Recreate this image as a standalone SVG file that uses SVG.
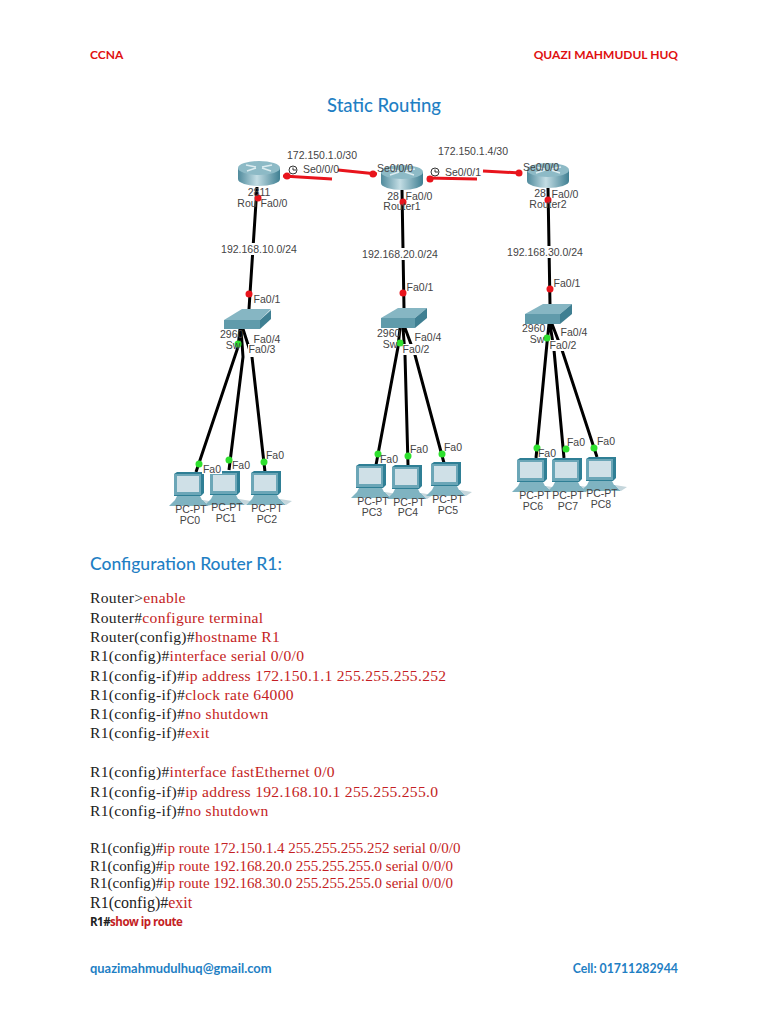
<svg xmlns="http://www.w3.org/2000/svg" width="768" height="1024" viewBox="0 0 768 1024">
<style>
text{font-family:"Liberation Sans",Arial,sans-serif}
.h{font-family:Lato,"Open Sans",sans-serif;font-weight:700;font-size:12px;fill:#e01010}
.f{font-family:Lato,"Open Sans",sans-serif;font-weight:700;fill:#1f7fc4}
.t{font-family:Lato,"Open Sans",sans-serif;fill:#1f7fc4;font-weight:500}
.c{font-family:"Liberation Serif","Times New Roman",serif;font-size:15.600px;letter-spacing:.3px;fill:#222}
.s{font-size:15px;letter-spacing:0}
.x{font-size:16px;letter-spacing:0}
.c tspan{fill:#c41e24}
.q{font-family:"Open Sans",Lato,sans-serif;font-weight:700;font-size:11.500px;letter-spacing:-.5px;fill:#222}
.l{font-size:10.500px;fill:#444;text-anchor:middle}
.a{font-size:10.500px;fill:#444}
.b{fill:#fff}
.k{stroke:#000;stroke-width:3;fill:none}
.r{stroke:#e8141c;stroke-width:3;fill:none}
.dr{fill:#e8141c}.dg{fill:#2ee02e}
</style>
<defs>
<linearGradient id="rg" x1="0" x2="1" y1="0" y2="0"><stop offset="0" stop-color="#4f8a9c"/><stop offset=".45" stop-color="#c3dde4"/><stop offset="1" stop-color="#3f7f92"/></linearGradient>
<g id="router">
<path d="M-21-5V6A21 7 0 0 0 21 6V-5Z" fill="url(#rg)"/>
<ellipse cx="0" cy="-5" rx="21" ry="7" fill="#8dbac6"/>
<path d="M-13-8L-3-6M-12-2L-3-5M13-8L3-6M12-2L3-5" stroke="#dcecf0" stroke-width="1.500" fill="none"/>
</g>
<g id="pc">
<path d="M0 1L3-1H30V20L27 23H0Z" fill="#2f7f95"/>
<path d="M0 1H27V22H0Z" fill="#6ba6b7"/>
<rect x="3" y="3" width="22" height="16" fill="#cfe0e7"/>
<path d="M3 23H26L28 27H1Z" fill="#7fb3c1"/>
<path d="M-5 33L1 27H29L35 33Z" fill="#7fb3c1"/>
<path d="M29 27L41 29L35 33Z" fill="#c5d6dc"/>
</g>
</defs>

<g id="header">
<text class="h" x="90" y="59">CCNA</text>
<text class="h" x="678" y="59" text-anchor="end">QUAZI MAHMUDUL HUQ</text>
<text class="t" x="384" y="112" text-anchor="middle" font-size="18.500">Static Routing</text>
</g>

<g id="connectors">
<path class="r" d="M283 176L332 179M338 170L377 174M427 178L477 179M483 171L520 173"/>
<path class="k" d="M257 187L249 309M402 190L404 308M548 188L550 305"/>
<path class="k" d="M240 329L238 347L196 472M241 329L243 357L229 470M243 329L252 357L265 472M400 328L398 347L376 465M403 328L405 355L408 465M405 328L415 355L444 463M549 324L547 343L536 458M550 324L554 350L564 458M552 324L562 350L597 457"/>
</g>

<g id="Router0"><use href="#router" x="259" y="173"/></g>
<g id="Router1"><use href="#router" x="402" y="177"/></g>
<g id="Router2"><use href="#router" x="548" y="175"/></g>

<g id="Switch0"><path d="M224 320L242 309H271L260 320Z" fill="#86b6c3"/><path d="M224 320H260V329H224Z" fill="#609bab"/><path d="M260 320L271 310V319L260 329Z" fill="#3f7f92"/></g>
<g id="Switch1"><path d="M381 318L398 308H427L415 318Z" fill="#86b6c3"/><path d="M381 318H415V328H381Z" fill="#609bab"/><path d="M415 318L427 308V318L415 328Z" fill="#3f7f92"/></g>
<g id="Switch2"><path d="M525 314L543 304H572L560 314Z" fill="#86b6c3"/><path d="M525 314H560V324H525Z" fill="#609bab"/><path d="M560 314L572 304V314L560 324Z" fill="#3f7f92"/></g>

<g id="PC0"><use href="#pc" x="174" y="473"/></g>
<g id="PC1"><use href="#pc" x="210" y="472"/></g>
<g id="PC2"><use href="#pc" x="251" y="472"/></g>
<g id="PC3"><use href="#pc" x="356" y="465"/></g>
<g id="PC4"><use href="#pc" x="392" y="466"/></g>
<g id="PC5"><use href="#pc" x="431" y="463"/></g>
<g id="PC6"><use href="#pc" x="517" y="459"/></g>
<g id="PC7"><use href="#pc" x="552" y="459"/></g>
<g id="PC8"><use href="#pc" x="586" y="458"/></g>

<g id="label-backgrounds" class="b">
<rect x="220" y="243" width="79" height="12"/><rect x="361" y="248" width="79" height="12"/><rect x="505" y="246" width="79" height="12"/>
<rect x="253" y="294" width="28" height="11"/><rect x="406" y="282" width="28" height="11"/><rect x="553" y="278" width="28" height="11"/>
<rect x="252" y="334" width="30" height="10"/><rect x="248" y="344" width="30" height="13"/>
<rect x="413" y="332" width="30" height="10"/><rect x="403" y="344" width="28" height="11"/>
<rect x="559" y="327" width="30" height="10"/><rect x="550" y="340" width="28" height="11"/>
<rect x="260" y="198" width="28" height="11"/><rect x="405" y="191" width="28" height="11"/><rect x="552" y="189" width="28" height="11"/>
<rect x="202" y="464" width="20" height="10"/><rect x="232" y="460" width="18" height="10"/>
<rect x="380" y="454" width="18" height="10"/><rect x="538" y="448" width="18" height="10"/>
</g>

<g id="endpoints">
<g class="dr"><circle cx="287" cy="176" r="3.500"/><circle cx="373" cy="174" r="3.500"/><circle cx="430" cy="179" r="3.500"/><circle cx="519" cy="173" r="3.500"/><circle cx="258" cy="198" r="3.500"/><circle cx="249" cy="294" r="3.500"/><circle cx="403" cy="202" r="3.500"/><circle cx="403" cy="293" r="3.500"/><circle cx="548" cy="200" r="3.500"/><circle cx="550" cy="289" r="3.500"/></g>
<g class="dg"><circle cx="238" cy="344" r="3.500"/><circle cx="199" cy="464" r="3.500"/><circle cx="229" cy="460" r="3.500"/><circle cx="264" cy="462" r="3.500"/><circle cx="400" cy="343" r="3.500"/><circle cx="378" cy="454" r="3.500"/><circle cx="408" cy="456" r="3.500"/><circle cx="442" cy="454" r="3.500"/><circle cx="547" cy="338" r="3.500"/><circle cx="537" cy="448" r="3.500"/><circle cx="566" cy="449" r="3.500"/><circle cx="594" cy="448" r="3.500"/></g>
<g fill="none" stroke="#333"><circle cx="293" cy="170" r="4"/><path d="M293 167.500V170H296"/><circle cx="435" cy="172" r="4"/><path d="M435 169.500V172H438"/></g>
</g>

<g id="labels">
<text class="l" x="322" y="159">172.150.1.0/30</text>
<text class="l" x="473" y="155">172.150.1.4/30</text>
<text class="l" x="321" y="173">Se0/0/0</text>
<text class="l" x="395" y="172">Se0/0/0</text>
<text class="l" x="463" y="176">Se0/0/1</text>
<text class="l" x="541" y="171">Se0/0/0</text>
<text class="l" x="259" y="196">2811</text>
<text class="l" x="247" y="207">Rou</text>
<text class="l" x="274" y="207">Fa0/0</text>
<text class="l" x="393" y="200">28</text>
<text class="l" x="419" y="200">Fa0/0</text>
<text class="l" x="402" y="210">Router1</text>
<text class="l" x="540" y="197">28</text>
<text class="l" x="565" y="198">Fa0/0</text>
<text class="l" x="548" y="208">Router2</text>
<text class="l" x="259" y="253">192.168.10.0/24</text>
<text class="l" x="400" y="258">192.168.20.0/24</text>
<text class="l" x="545" y="256">192.168.30.0/24</text>
<text class="l" x="267" y="303">Fa0/1</text>
<text class="l" x="420" y="291">Fa0/1</text>
<text class="l" x="567" y="287">Fa0/1</text>
<text class="a" x="220" y="338">2960</text>
<text class="l" x="267" y="343">Fa0/4</text>
<text class="l" x="262" y="353">Fa0/3</text>
<text class="l" x="233" y="349">Sw</text>
<text class="a" x="377" y="337">2960</text>
<text class="l" x="428" y="341">Fa0/4</text>
<text class="l" x="416" y="353">Fa0/2</text>
<text class="l" x="390" y="348">Sw</text>
<text class="a" x="522" y="332">2960</text>
<text class="l" x="574" y="336">Fa0/4</text>
<text class="l" x="563" y="349">Fa0/2</text>
<text class="l" x="537" y="343">Sw</text>
<text class="l" x="212" y="473">Fa0</text>
<text class="l" x="241" y="469">Fa0</text>
<text class="l" x="275" y="459">Fa0</text>
<text class="l" x="389" y="463">Fa0</text>
<text class="l" x="419" y="453">Fa0</text>
<text class="l" x="453" y="451">Fa0</text>
<text class="l" x="547" y="457">Fa0</text>
<text class="l" x="576" y="446">Fa0</text>
<text class="l" x="606" y="445">Fa0</text>
<text class="l" x="191" y="513">PC-PT</text><text class="l" x="190" y="524">PC0</text>
<text class="l" x="227" y="511">PC-PT</text><text class="l" x="226" y="522">PC1</text>
<text class="l" x="267" y="512">PC-PT</text><text class="l" x="267" y="523">PC2</text>
<text class="l" x="373" y="505">PC-PT</text><text class="l" x="372" y="516">PC3</text>
<text class="l" x="409" y="506">PC-PT</text><text class="l" x="408" y="516">PC4</text>
<text class="l" x="448" y="503">PC-PT</text><text class="l" x="448" y="514">PC5</text>
<text class="l" x="535" y="499">PC-PT</text><text class="l" x="533" y="510">PC6</text>
<text class="l" x="568" y="499">PC-PT</text><text class="l" x="568" y="510">PC7</text>
<text class="l" x="602" y="497">PC-PT</text><text class="l" x="601" y="508">PC8</text>
</g>

<g id="config">
<text class="t" x="90" y="570" font-size="17.500">Configuration Router R1:</text>
<text class="c" x="90" y="603">Router&gt;<tspan>enable</tspan></text>
<text class="c" x="90" y="622.500">Router#<tspan>configure terminal</tspan></text>
<text class="c" x="90" y="642">Router(config)#<tspan>hostname R1</tspan></text>
<text class="c" x="90" y="661">R1(config)#<tspan>interface serial 0/0/0</tspan></text>
<text class="c" x="90" y="681">R1(config-if)#<tspan>ip address 172.150.1.1 255.255.255.252</tspan></text>
<text class="c" x="90" y="700">R1(config-if)#<tspan>clock rate 64000</tspan></text>
<text class="c" x="90" y="719">R1(config-if)#<tspan>no shutdown</tspan></text>
<text class="c" x="90" y="738">R1(config-if)#<tspan>exit</tspan></text>
<text class="c" x="90" y="777">R1(config)#<tspan>interface fastEthernet 0/0</tspan></text>
<text class="c" x="90" y="797">R1(config-if)#<tspan>ip address 192.168.10.1 255.255.255.0</tspan></text>
<text class="c" x="90" y="816">R1(config-if)#<tspan>no shutdown</tspan></text>
<text class="c s" x="90" y="853">R1(config)#<tspan>ip route 172.150.1.4 255.255.255.252 serial 0/0/0</tspan></text>
<text class="c s" x="90" y="871">R1(config)#<tspan>ip route 192.168.20.0 255.255.255.0 serial 0/0/0</tspan></text>
<text class="c s" x="90" y="888">R1(config)#<tspan>ip route 192.168.30.0 255.255.255.0 serial 0/0/0</tspan></text>
<text class="c x" x="90" y="908">R1(config)#<tspan>exit</tspan></text>
<text class="q" x="90" y="925.500">R1#<tspan fill="#c41e24">show ip route</tspan></text>
</g>

<g id="footer">
<text class="f" x="90" y="973" font-size="12.900">quazimahmudulhuq@gmail.com</text>
<text class="f" x="678" y="973" font-size="12.300" text-anchor="end">Cell: 01711282944</text>
</g>
</svg>
